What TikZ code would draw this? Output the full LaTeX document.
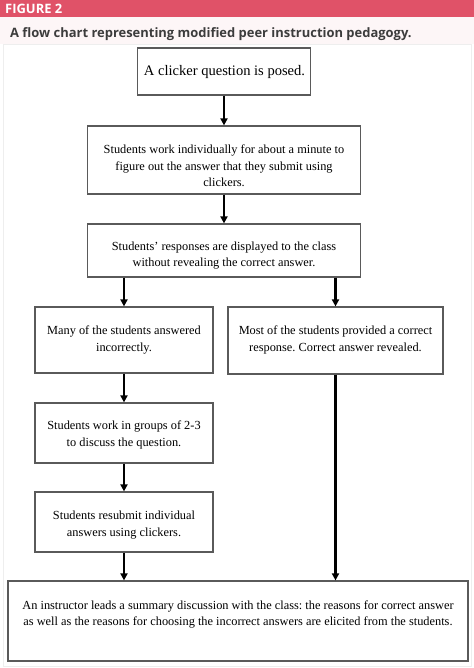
\documentclass[tikz,border=0pt]{standalone}
\usepackage{fontspec}
\setmainfont{Liberation Serif}
\newfontfamily\hdfont{Open Sans}
\usetikzlibrary{arrows.meta}
\definecolor{hdred}{RGB}{224,82,104}
\definecolor{bandpink}{RGB}{253,246,247}
\definecolor{capgray}{RGB}{60,60,60}
\definecolor{boxgray}{RGB}{90,90,90}
\frenchspacing
\begin{document}
\begin{tikzpicture}[x=1bp,y=-1bp,
  flowbox/.style={draw=boxgray,line width=1.2bp,rectangle,inner sep=0pt},
  flowtext/.style={inner sep=0pt,align=center,font=\fontsize{12.4}{16.5}\selectfont},
  flowarrow/.style={draw=black,line width=2.2bp,-{Triangle[width=7bp,length=7bp]}}]
\useasboundingbox (0,0) rectangle (474,668);
\fill[white] (0,0) rectangle (474,668);
% header
\fill[hdred] (0,0) rectangle (474,17);
\fill[bandpink] (0,17) rectangle (474,44);
\draw[draw={rgb,255:red,238;green,238;blue,238},line width=0.8bp] (3,44) rectangle (471,666);
\node[anchor=base west,inner sep=0pt,text=white,font=\hdfont\bfseries\fontsize{13}{16}\selectfont] (hd) at (5,13.7) {FIGURE 2};
\node[anchor=base west,inner sep=0pt,text=capgray,font=\hdfont\bfseries\fontsize{13}{16}\selectfont] (cap) at (10,37.5) {A flow chart representing modified peer instruction pedagogy.};
% boxes
\node[flowbox,minimum width=173bp,minimum height=47bp] (b1) at (224,71.5) {};
\node[flowbox,minimum width=273bp,minimum height=68bp] (b2) at (224,160) {};
\node[flowbox,minimum width=273bp,minimum height=53bp] (b3) at (224,250.5) {};
\node[flowbox,minimum width=178bp,minimum height=66bp] (b4) at (124,340) {};
\node[flowbox,minimum width=215bp,minimum height=67bp] (b5) at (335.5,340.5) {};
\node[flowbox,minimum width=178bp,minimum height=60bp] (b6) at (124,433) {};
\node[flowbox,minimum width=178bp,minimum height=60bp] (b7) at (124,522) {};
\node[flowbox,minimum width=460bp,minimum height=80bp] (b8) at (238,621) {};
% texts
\node[flowtext,font=\fontsize{14.6}{17}\selectfont] (t1) at (224.5,72.5) {A clicker question is posed.};
\node[flowtext] (t2) at (224,166) {Students work individually for about a minute to\\figure out the answer that they submit using\\clickers.};
\node[flowtext] (t3) at (224,255.5) {Students' responses are displayed to the class\\without revealing the correct answer.};
\node[flowtext] (t4) at (124,340) {Many of the students answered\\incorrectly.};
\node[flowtext] (t5) at (335.5,340) {Most of the students provided a correct\\response. Correct answer revealed.};
\node[flowtext] (t6) at (124,435) {Students work in groups of 2-3\\to discuss the question.};
\node[flowtext] (t7) at (124,525) {Students resubmit individual\\answers using clickers.};
\node[flowtext,font=\fontsize{12.4}{15.5}\selectfont] (t8) at (238,614.5) {An instructor leads a summary discussion with the class: the reasons for correct answer\\as well as the reasons for choosing the incorrect answers are elicited from the students.};
% arrows
\draw[flowarrow] (b1.south) -- (b2.north);
\draw[flowarrow] (b2.south) -- (b3.north);
\draw[flowarrow] (b3.south -| b4.north) -- (b4.north);
\draw[flowarrow] (b3.south -| b5.north) -- (b5.north);
\draw[flowarrow] (b4.south) -- (b6.north);
\draw[flowarrow] (b6.south) -- (b7.north);
\draw[flowarrow] (b7.south) -- (b7.south |- b8.north);
\draw[flowarrow] (b5.south) -- (b5.south |- b8.north);
\end{tikzpicture}
\end{document}
